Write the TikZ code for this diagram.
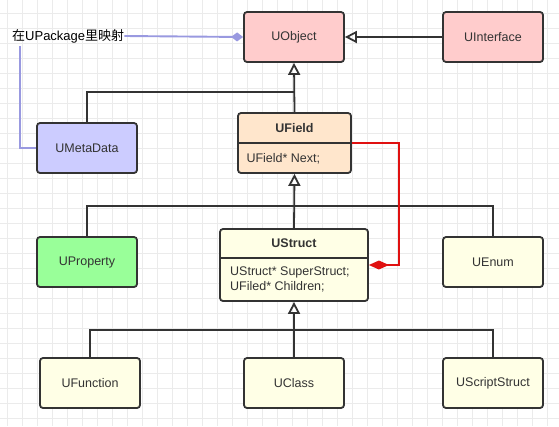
\documentclass[tikz,border=0pt]{standalone}
\usepackage{fontspec}
\setmainfont{Liberation Sans}
\newfontfamily\cjk{Noto Sans CJK SC}
\usetikzlibrary{arrows.meta}

\definecolor{objred}{HTML}{FFCCCC}
\definecolor{fieldpeach}{HTML}{FFE6CC}
\definecolor{metablue}{HTML}{CCCCFF}
\definecolor{propgreen}{HTML}{99FF99}
\definecolor{cream}{HTML}{FFFFE6}
\definecolor{edgegray}{HTML}{333333}
\definecolor{mapblue}{HTML}{9999E0}
\definecolor{ownred}{HTML}{E01010}

\begin{document}
\begin{tikzpicture}[x=1pt, y=-1pt, font=\fontsize{12.5}{15}\selectfont]
 % --- 各パーツのスタイルを定義 ---
 \tikzset{
    classbox/.style={
        rectangle,
        draw=edgegray,
        line width=1.8pt,
        rounded corners=3pt,
        fill=cream,
        text=edgegray,
        minimum width=100pt,
        minimum height=50pt
    },
    inherit/.style={
        draw=edgegray,
        line width=1.8pt,
        -{Triangle[open, length=12pt, width=12pt, line width=1.8pt]}
    },
    branch/.style={
        draw=edgegray,
        line width=1.8pt
    },
    owner/.style={
        draw=ownred,
        line width=1.6pt,
        -{Diamond[fill=ownred, length=20pt, width=9pt]}
    },
    mapline/.style={
        draw=mapblue,
        line width=1.9pt
    }
 }

 % --- 背景のグリッド ---
 \useasboundingbox (0,0) rectangle (559,426);
 \fill[white] (0,0) rectangle (559,426);
 \begin{scope}[shift={(7,13)}]
  \draw[black!8, line width=0.6pt, step=15pt] (-7,-13) grid (552,413);
 \end{scope}

 % --- クラスを配置 ---
 \node[classbox, fill=objred] (UObject) at (294,37) {UObject};
 \node[classbox, fill=objred] (UInterface) at (493,37) {UInterface};
 \node[classbox, fill=metablue] (UMetaData) at (87,148) {UMetaData};

 % UField (二段の箱)
 \node[classbox, fill=fieldpeach, minimum width=113pt, minimum height=60pt] (UField) at (294.5,143) {};
 \node[font=\fontsize{12.5}{15}\selectfont\bfseries, text=edgegray] (UFieldName) at (294.5,128) {UField};
 \node[anchor=west, text=edgegray] (UFieldBody) at (243,159) {UField* Next;};
 \draw[branch] (UField.west) -- (UField.east);

 \node[classbox, fill=propgreen] (UProperty) at (87,262) {UProperty};

 % UStruct (二段の箱)
 \node[classbox, minimum width=148pt, minimum height=72pt] (UStruct) at (294,265) {};
 \node[font=\fontsize{12.5}{15}\selectfont\bfseries, text=edgegray] (UStructName) at (294,243) {UStruct};
 \node[anchor=west, text=edgegray, align=left, inner sep=0pt] (UStructBody) at (230,279) {UStruct* SuperStruct;\\UFiled* Children;};
 \draw[branch] ([yshift=7pt]UStruct.west) -- ([yshift=7pt]UStruct.east);

 \node[classbox] (UEnum) at (493,262) {UEnum};
 \node[classbox] (UFunction) at (90,383) {UFunction};
 \node[classbox] (UClass) at (294,383) {UClass};
 \node[classbox] (UScriptStruct) at (493,383) {UScriptStruct};

 % --- 継承の線 ---
 \coordinate (JObject) at (294,92);
 \coordinate (JField) at (294,206);
 \coordinate (JStruct) at (294,330);

 \draw[inherit] (UInterface.west) -- (UObject.east);
 \draw[inherit] (UField.north) -- (UObject.south);
 \draw[branch] (UMetaData.north) |- (JObject);

 \draw[inherit] (UStruct.north) -- (UField.south);
 \draw[branch] (UProperty.north) |- (JField) -| (UEnum.north);

 \draw[inherit] (UClass.north) -- (UStruct.south);
 \draw[branch] (UFunction.north) |- (JStruct) -| (UScriptStruct.north);

 % --- UField と UStruct の集約 ---
 \coordinate (RTurn) at (399,200);
 \draw[owner] (UField.east) -| (RTurn) |- (UStruct.east);

 % --- UPackage への対応 ---
 \node[anchor=west, inner sep=0pt, text=black, font=\fontsize{13}{15}\selectfont] (Mapping) at (12,36) {{\cjk 在}UPackage{\cjk 里映射}};
 \coordinate (MDown) at (20,46);
 \draw[mapline, -{Diamond[fill=mapblue, length=12pt, width=9pt]}] (Mapping.east) -- (UObject.west);
 \draw[mapline] (MDown) |- (UMetaData.west);
\end{tikzpicture}
\end{document}
